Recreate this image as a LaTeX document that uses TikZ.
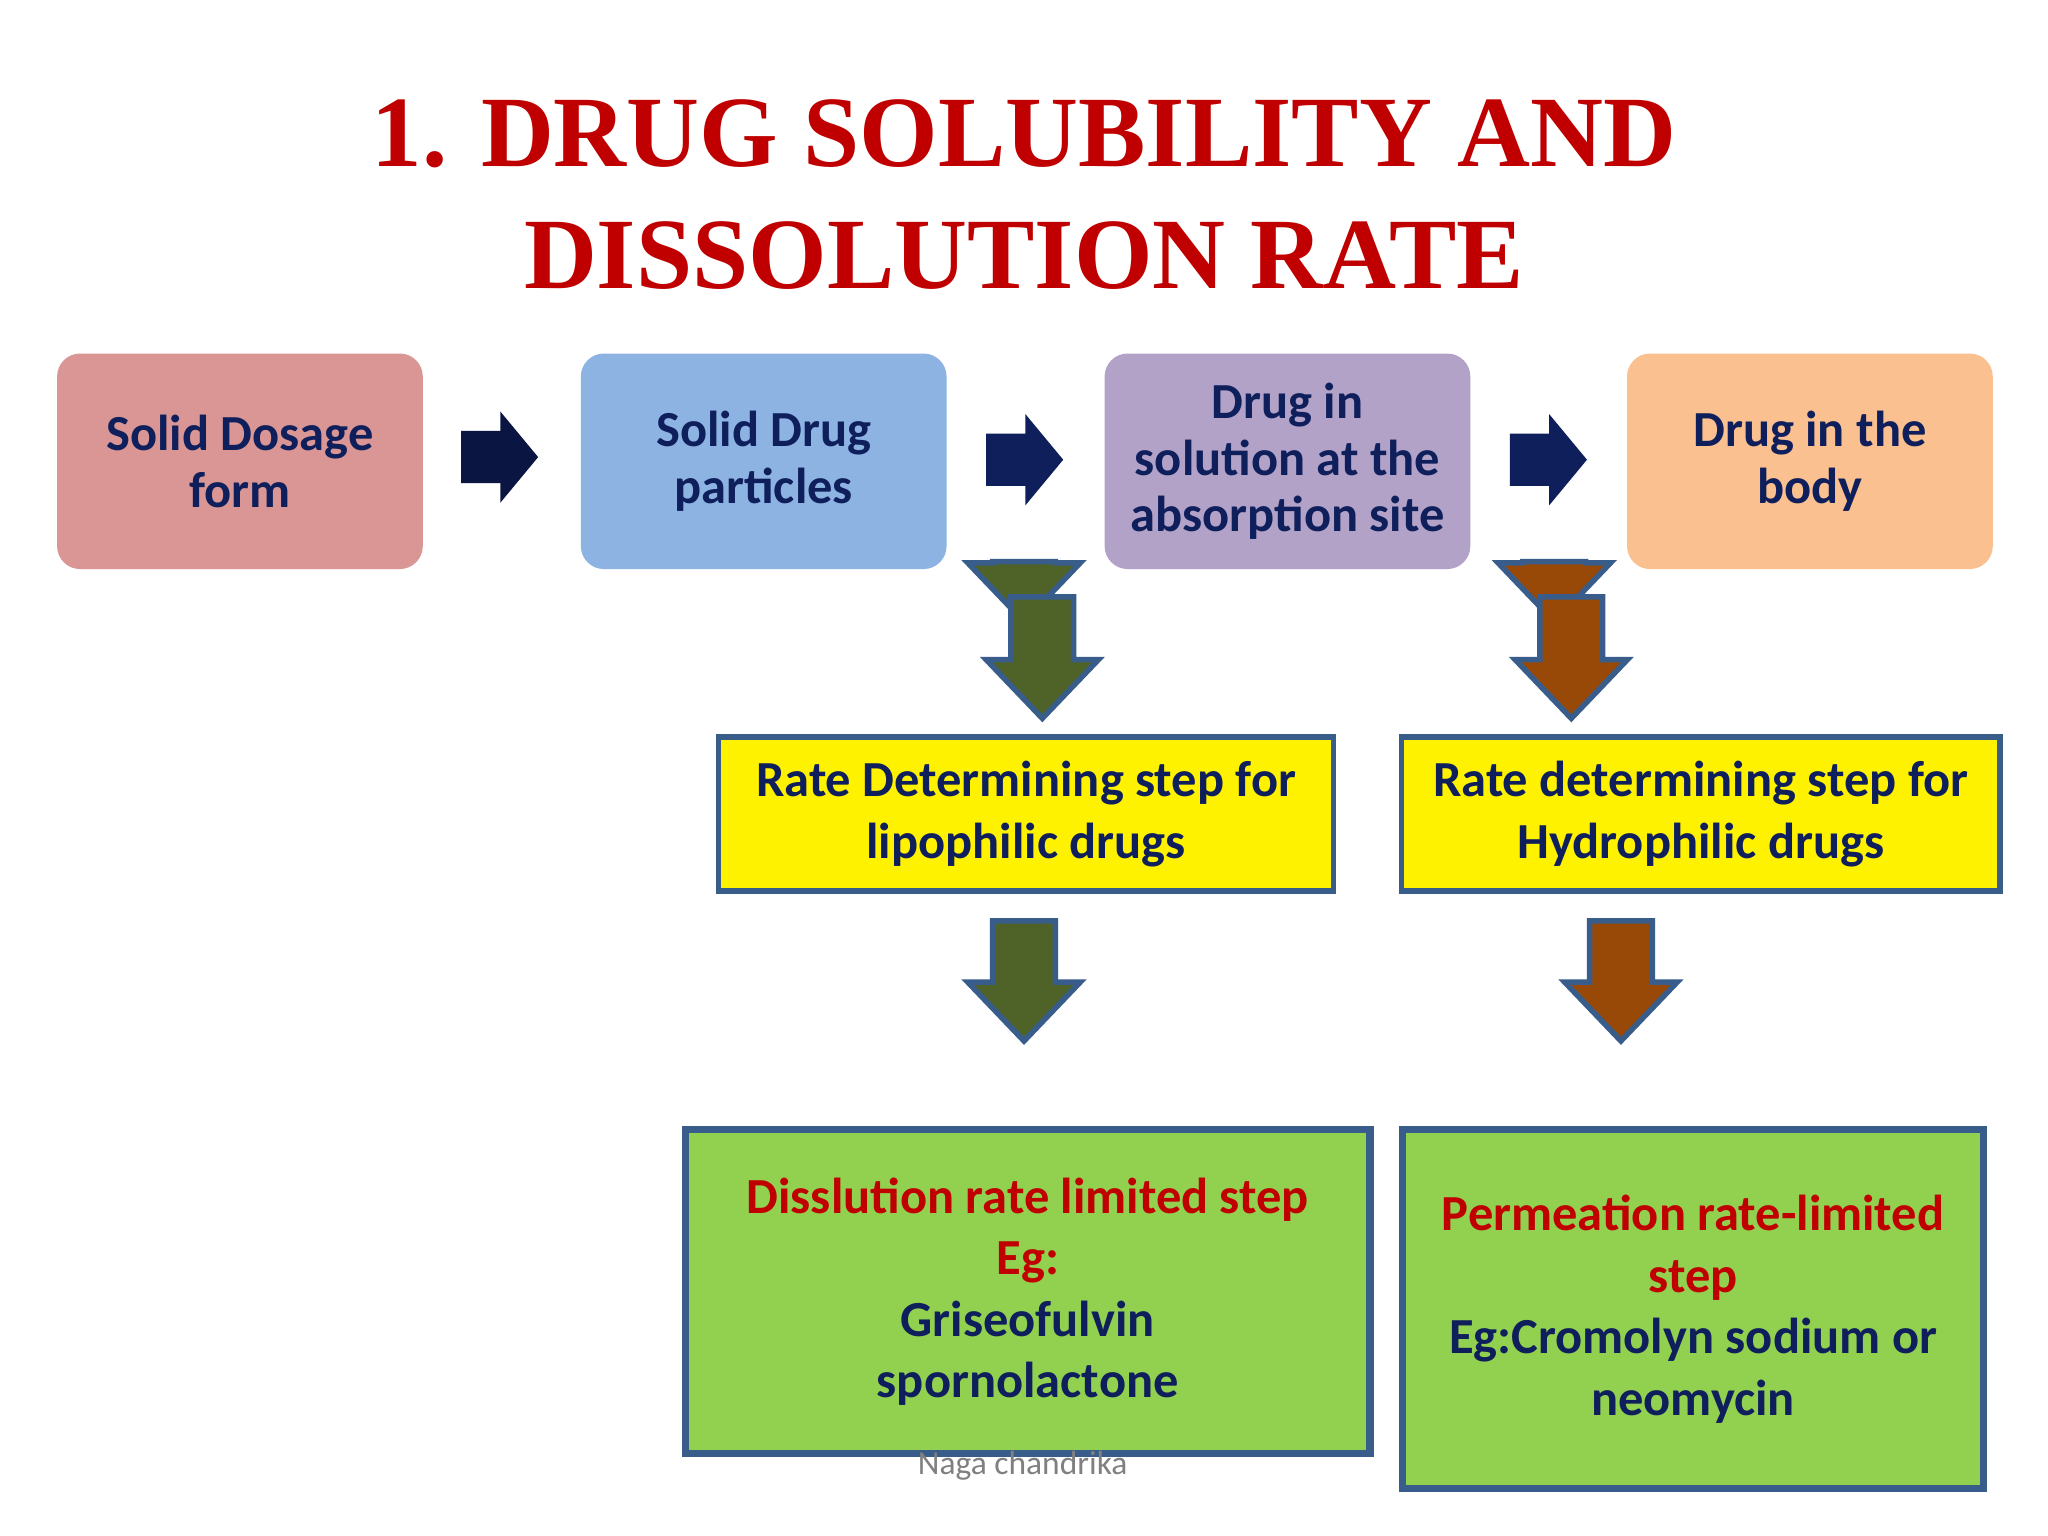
\documentclass[tikz,border=0pt]{standalone}
\usepackage{fontspec}
\setmainfont{Carlito}
\newfontfamily\titlefont{Liberation Serif}
\definecolor{tred}{HTML}{C00000}
\definecolor{navy}{HTML}{0F1F5C}
\definecolor{bpink}{HTML}{D99694}
\definecolor{bblue}{HTML}{8DB3E2}
\definecolor{bpurp}{HTML}{B2A2C7}
\definecolor{bor}{HTML}{FAC090}
\definecolor{olive}{HTML}{4F6228}
\definecolor{brown}{HTML}{984807}
\definecolor{edge}{HTML}{385D8A}
\definecolor{lgreen}{HTML}{92D050}
\newcommand\darr[4]{% color, cx, top, tip
  \fill[#1,draw=edge,line width=1.2pt,line join=miter]
   (#2-0.24,#3) -- (#2+0.24,#3) -- (#2+0.24,#4+0.45) -- (#2+0.43,#4+0.45) -- (#2,#4)
   -- (#2-0.43,#4+0.45) -- (#2-0.24,#4+0.45) -- cycle;}
\newcommand\rarr[3]{% color, left x, center y
  \fill[#1] (#2,#3+0.2) -- (#2+0.3,#3+0.2) -- (#2+0.3,#3+0.35) -- (#2+0.59,#3)
   -- (#2+0.3,#3-0.35) -- (#2+0.3,#3-0.2) -- (#2,#3-0.2) -- cycle;}
\begin{document}
\begin{tikzpicture}[
  top/.style={rounded corners=5pt,minimum width=2.8cm,minimum height=1.65cm,align=center,
    text=navy,font=\bfseries\fontsize{11}{12.3}\selectfont,anchor=north west,inner sep=2pt},
  ybox/.style={draw=edge,line width=1.2pt,fill=yellow,align=center,text=navy,
    font=\bfseries\fontsize{11}{13.4}\selectfont,anchor=north west,inner sep=0pt},
  gbox/.style={draw=edge,line width=1.6pt,fill=lgreen,align=center,text=navy,
    font=\bfseries\fontsize{11}{13.4}\selectfont,anchor=north west,inner sep=0pt}]
\useasboundingbox[fill=white] (0,0) rectangle (15.68,11.76);
\node[text=tred,font=\titlefont\bfseries\fontsize{22}{26.5}\selectfont,align=center] (title) at (7.84,10.27)
  {1. DRUG SOLUBILITY AND\\DISSOLUTION RATE};
\node[top,fill=bpink] (a) at (0.43,9.06) {Solid Dosage\\form};
\node[top,fill=bblue] (b) at (4.44,9.06) {Solid Drug\\particles};
\node[top,fill=bpurp] (c) at (8.45,9.06) {Drug in\\solution at the\\absorption site};
\node[top,fill=bor] (d) at (12.45,9.06) {Drug in the\\body};
\rarr{navy!70!black}{3.53}{8.26}
\rarr{navy}{7.55}{8.24}
\rarr{navy}{11.56}{8.24}
\darr{olive}{7.84}{7.46}{7.0}
\darr{olive}{7.98}{7.19}{6.26}
\darr{brown}{11.9}{7.46}{7.0}
\darr{brown}{12.03}{7.19}{6.26}
\node[ybox,minimum width=4.71cm,minimum height=1.18cm] (y1) at (5.48,6.14) {Rate Determining step for\\lipophilic drugs};
\node[ybox,minimum width=4.58cm,minimum height=1.18cm] (y2) at (10.71,6.14) {Rate determining step for\\Hydrophilic drugs};
\darr{olive}{7.84}{4.71}{3.79}
\darr{brown}{12.41}{4.71}{3.79}
\node[gbox,minimum width=5.24cm,minimum height=2.48cm] (g1) at (5.22,3.14)
  {\textcolor{tred}{Disslution rate limited step}\\\textcolor{tred}{Eg:}\\Griseofulvin\\spornolactone};
\node[gbox,minimum width=4.45cm,minimum height=2.75cm] (g2) at (10.71,3.14)
  {\textcolor{tred}{Permeation rate-limited}\\\textcolor{tred}{step}\\Eg:Cromolyn sodium or\\neomycin};
\node[text=gray,font=\fontsize{7.3}{8}\selectfont] (foot) at (7.83,0.54) {Naga chandrika};
\end{tikzpicture}
\end{document}
